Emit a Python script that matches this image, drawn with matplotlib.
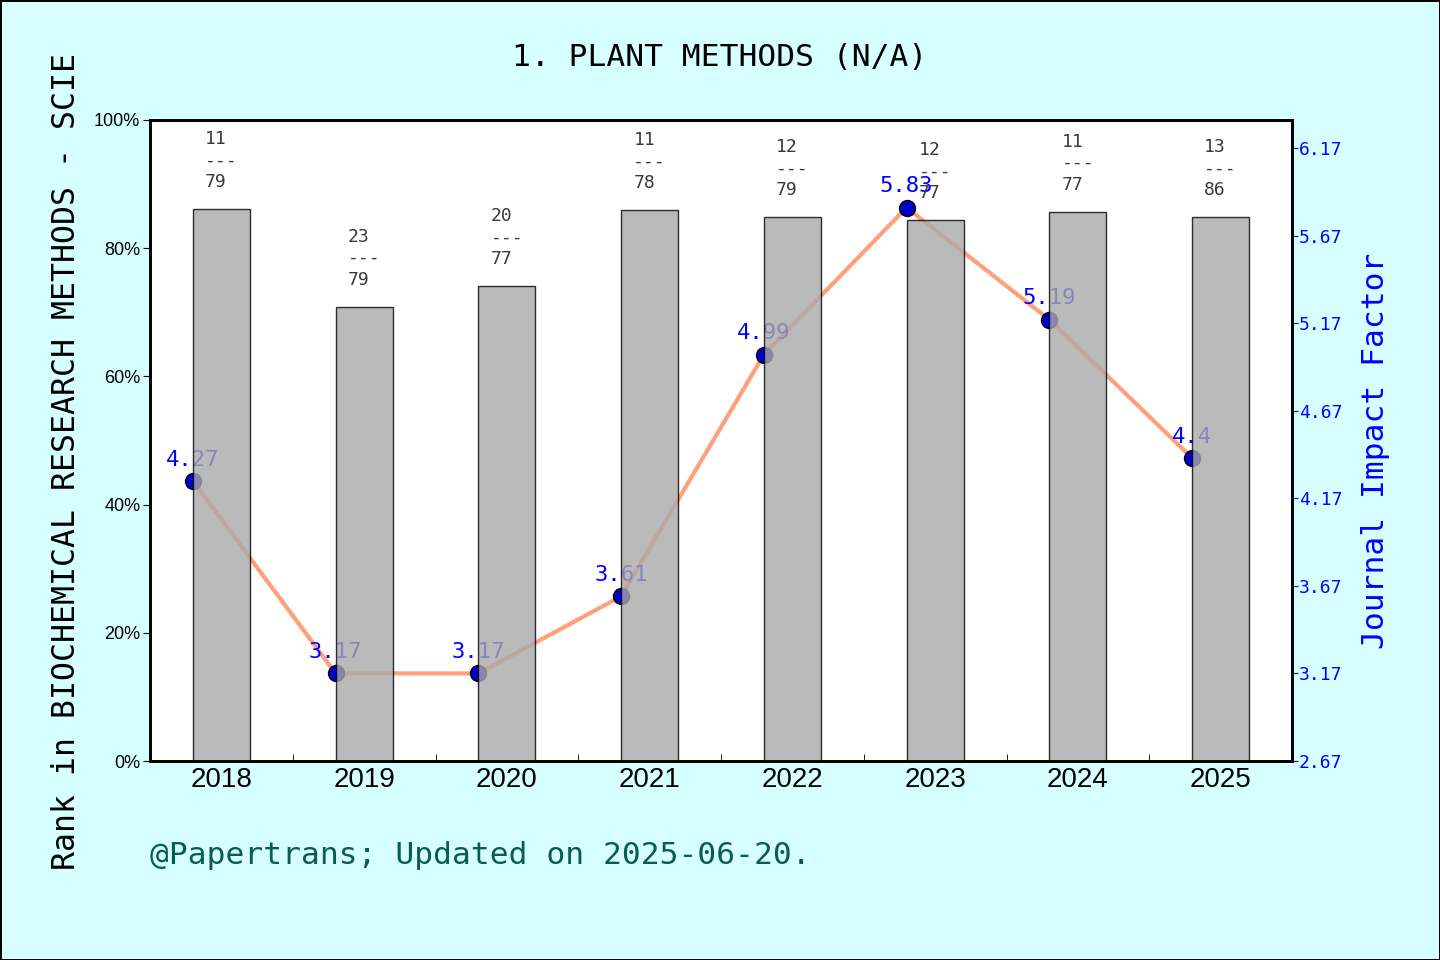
import matplotlib
matplotlib.use('Agg')
import matplotlib.pyplot as plt
from matplotlib.ticker import FixedLocator

# Journal data
years = ['2018', '2019', '2020', '2021', '2022', '2023', '2024', '2025']
ranks = [11, 23, 20, 11, 12, 12, 11, 13]
totals = [79, 79, 77, 78, 79, 77, 77, 86]
impact = [4.27, 3.17, 3.17, 3.61, 4.99, 5.83, 5.19, 4.4]

title = '1. PLANT METHODS (N/A)'
left_label = 'Rank in BIOCHEMICAL RESEARCH METHODS - SCIE'
right_label = 'Journal Impact Factor'
footer = '@Papertrans; Updated on 2025-06-20.'

bg = '#d6ffff'
mono = 'DejaVu Sans Mono'
sans = 'Liberation Sans'

fig = plt.figure(figsize=(14.4, 9.6), dpi=100, facecolor=bg)
fig.patch.set_edgecolor('black')
fig.patch.set_linewidth(2)

ax = fig.add_axes([150 / 1440, 1 - 761 / 960, 1142 / 1440, 641 / 960])
ax2 = ax.twinx()

# bars go on top of the line, so raise the bar axes and give the line axes the white patch
ax.set_zorder(ax2.get_zorder() + 1)
ax.patch.set_visible(False)
ax2.patch.set_visible(True)
ax2.patch.set_facecolor('white')

x = list(range(len(years)))
pct = [(1 - r / t) * 100 for r, t in zip(ranks, totals)]

ax.bar(x, pct, width=0.4, color='darkgray', alpha=0.8, edgecolor='black', linewidth=1)
for i, (p, r, t) in enumerate(zip(pct, ranks, totals)):
    ax.annotate(f'{r}\n---\n{t}', (i, p), xytext=(0, 13), textcoords='offset points',
                ha='center', va='bottom', multialignment='left', linespacing=1.25,
                fontsize=13, family=mono, color='#3a3a3a', annotation_clip=False)

# impact factor line, points sit on the left edge of each bar
xl = [i - 0.2 for i in x]
ax2.plot(xl, impact, color='lightsalmon', linewidth=3, marker='o', markersize=11.5,
         markerfacecolor='#0000cd', markeredgecolor='black', markeredgewidth=1)
for xi, v in zip(xl, impact):
    ax2.annotate(f'{v:g}', (xi, v), xytext=(0, 11), textcoords='offset points',
                 ha='center', va='baseline', fontsize=16, family=mono, color='blue')

ax.set_xlim(-0.5, len(years) - 0.5)
ax.set_ylim(0, 100)
ax.set_xticks(x)
ax.set_xticklabels(years, fontsize=20, family=sans)
ax.tick_params(axis='x', length=0, pad=4)
ax.xaxis.set_minor_locator(FixedLocator([i + 0.5 for i in x[:-1]]))
ax.tick_params(axis='x', which='minor', direction='in', length=5)

ax.set_yticks([0, 20, 40, 60, 80, 100])
ax.set_yticklabels([f'{v}%' for v in [0, 20, 40, 60, 80, 100]], fontsize=13, family=sans)
ax.tick_params(axis='y', direction='out', length=5, pad=2)

lo = min(impact) - 0.5
hi = max(impact) + 0.5
ax2.set_ylim(lo, hi)
rticks = [lo + 0.5 * k for k in range(8)]
ax2.set_yticks(rticks)
ax2.set_yticklabels([f'{t:.2f}' for t in rticks], fontsize=13, family=mono, color='blue')
ax2.tick_params(axis='y', direction='out', length=4, pad=1, colors='blue')

for a in (ax, ax2):
    for s in a.spines.values():
        s.set_linewidth(2)

fig.text(720 / 1440, 1 - 57 / 960, title, ha='center', va='center', fontsize=22.5, family=mono)
fig.text(67 / 1440, 1 - 462 / 960, left_label, rotation=90, ha='center', va='center',
         fontsize=22.7, family=mono)
fig.text(1375 / 1440, 1 - 451 / 960, right_label, rotation=90, ha='center', va='center',
         fontsize=22.5, family=mono, color='blue')
fig.text(150 / 1440, 1 - 855 / 960, footer, ha='left', va='center', fontsize=22.5,
         family=mono, color='#0a5a55')

fig.savefig('out.png', dpi=100, facecolor=bg, edgecolor='black')
